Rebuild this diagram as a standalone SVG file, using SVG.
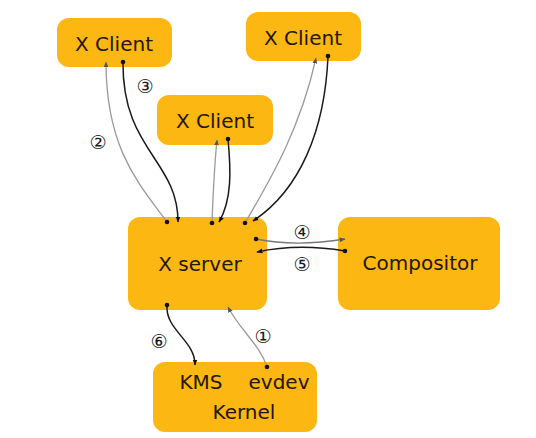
<svg xmlns="http://www.w3.org/2000/svg" width="536" height="438" viewBox="0 0 536 438">
<defs>
<style>
.box{fill:#fcb712;}
.t{font-family:"DejaVu Sans",Verdana,sans-serif;font-size:20px;fill:#241600;text-anchor:middle;}
.n{font-family:"DejaVu Sans",sans-serif;font-size:19px;fill:#1a1a1a;text-anchor:middle;}
.g{fill:none;stroke:#9a9a9a;stroke-width:1.3;marker-end:url(#ag);}
.k{fill:none;stroke:#1a1a1a;stroke-width:1.5;marker-end:url(#ak);}
.d{fill:#111;}
</style>
<marker id="ag" viewBox="0 0 10 10" refX="9" refY="5" markerWidth="6" markerHeight="6" orient="auto" markerUnits="userSpaceOnUse"><path d="M0,1 L10,5 L0,9 z" fill="#555"/></marker>
<marker id="ak" viewBox="0 0 10 10" refX="9" refY="5" markerWidth="6" markerHeight="6" orient="auto" markerUnits="userSpaceOnUse"><path d="M0,1 L10,5 L0,9 z" fill="#111"/></marker>
</defs>
<rect width="536" height="438" fill="#fff"/>
<g id="client1"><rect class="box" x="57" y="18" width="115" height="49" rx="12"/><text class="t" x="114" y="51">X Client</text></g>
<g id="client2"><rect class="box" x="157" y="95" width="116" height="50" rx="12"/><text class="t" x="215" y="128">X Client</text></g>
<g id="client3"><rect class="box" x="246" y="12" width="115" height="49" rx="12"/><text class="t" x="303" y="45">X Client</text></g>
<g id="xserver"><rect class="box" x="128" y="217" width="139" height="93" rx="12"/><text class="t" x="200" y="271">X server</text></g>
<g id="compositor"><rect class="box" x="338" y="217" width="162" height="93" rx="12"/><text class="t" x="420" y="270">Compositor</text></g>
<g id="kernel"><rect class="box" x="153" y="362" width="164" height="70" rx="12"/><text class="t" x="201" y="389">KMS</text><text class="t" x="279" y="389">evdev</text><text class="t" x="244" y="419">Kernel</text></g>
<g id="connectors">
<path class="g" d="M167,222 C140,185 106,150 106,62"/>
<path class="k" d="M123,62 C122,150 178,160 178,222"/>
<path class="g" d="M212,223 C213,195 214,170 217,140"/>
<path class="k" d="M228,139 C231,170 232,200 219,222"/>
<path class="g" d="M245,223 C270,180 300,130 316,58"/>
<path class="k" d="M328,56 C325,130 300,190 253,221"/>
<path class="g" style="stroke:#777" d="M256,239 C285,245 315,244 345,239"/>
<path class="k" d="M345,251 C315,246 285,246 257,252"/>
<path class="k" d="M167,305 C165,330 195,340 195,365"/>
<path class="g" d="M267,367 C260,345 240,330 228,307"/>
<circle class="d" cx="167" cy="222" r="2.3"/>
<circle class="d" cx="123" cy="62" r="2.3"/>
<circle class="d" cx="212" cy="223" r="2.3"/>
<circle class="d" cx="228" cy="139" r="2.3"/>
<circle class="d" cx="245" cy="223" r="2.3"/>
<circle class="d" cx="328" cy="56" r="2.3"/>
<circle class="d" cx="256" cy="239" r="2.3"/>
<circle class="d" cx="345" cy="251" r="2.3"/>
<circle class="d" cx="167" cy="305" r="2.3"/>
<circle class="d" cx="267" cy="367" r="2.3"/>
<text class="n" x="98" y="149">②</text>
<text class="n" x="145" y="93">③</text>
<text class="n" x="302" y="239">④</text>
<text class="n" x="302" y="271">⑤</text>
<text class="n" x="159" y="348">⑥</text>
<text class="n" x="263" y="343">①</text>
</g>
</svg>
